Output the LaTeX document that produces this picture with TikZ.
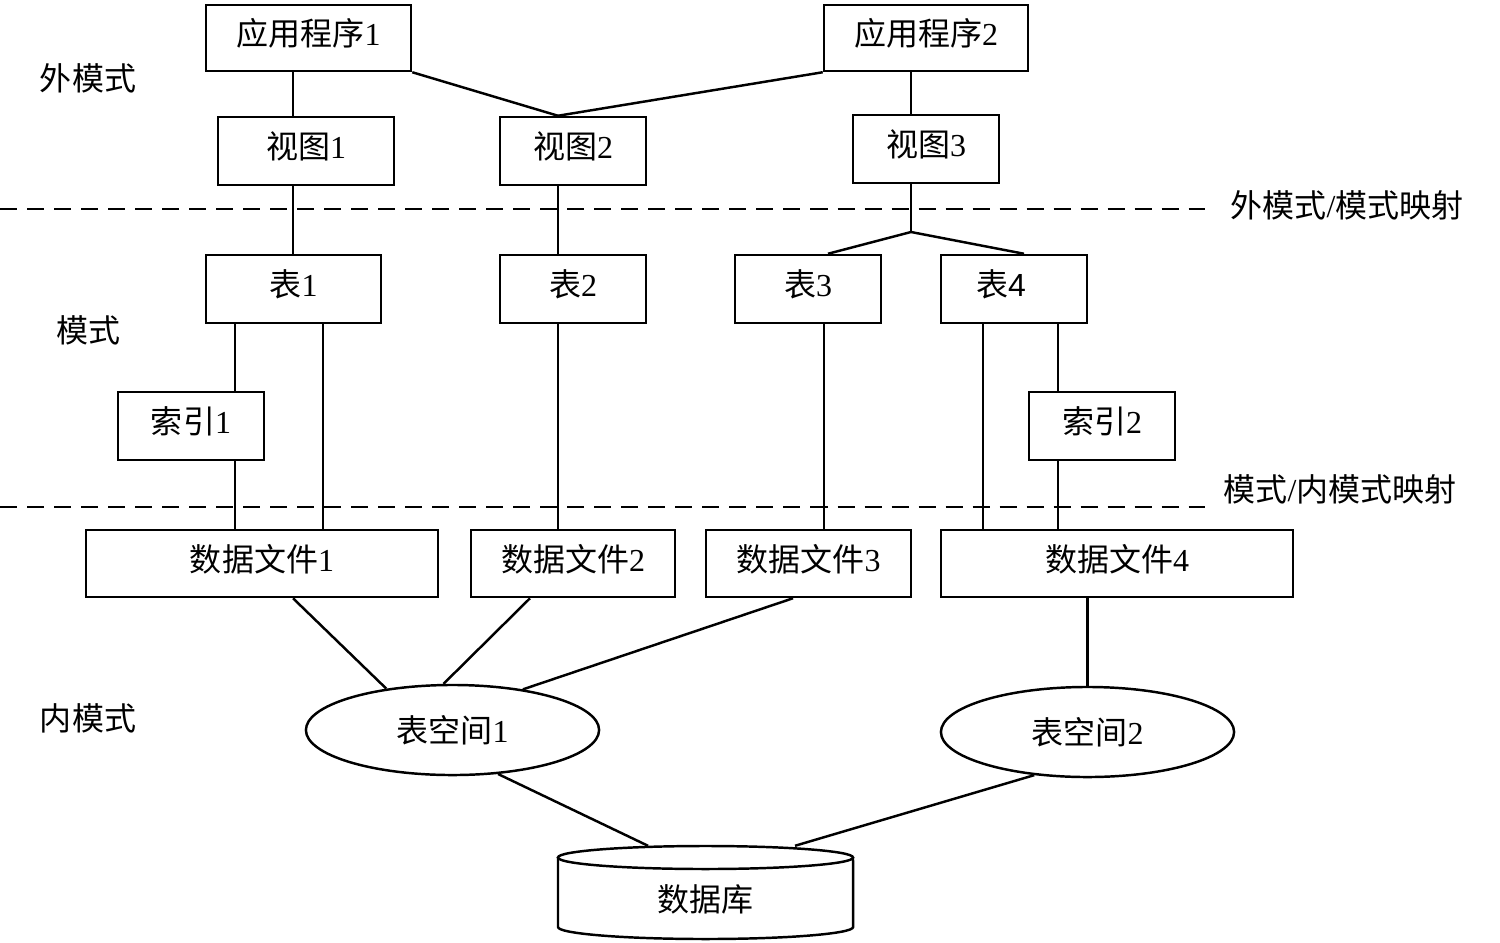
\documentclass[tikz,border=0pt]{standalone}
\usepackage{fontspec}
\setmainfont{Liberation Serif}
\newfontfamily\cjk{Noto Sans CJK SC}
\newfontfamily\lsans{Liberation Sans}
\usetikzlibrary{shapes.geometric}
\newcommand{\zh}[1]{{\cjk #1}}
\begin{document}
\begin{tikzpicture}[x=0.01cm,y=-0.01cm,
  every node/.style={font=\fontsize{9.1pt}{11pt}\selectfont},
  box/.style={draw, line width=0.7pt, inner sep=0pt, minimum height=0.68cm, text height=0.26cm, text depth=0.11cm},
  oval/.style={draw, ellipse, line width=0.7pt, inner sep=0pt, minimum width=2.93cm, minimum height=0.9cm},
  conn/.style={line width=0.7pt},
  sep/.style={line width=0.7pt, dash pattern=on 0.17cm off 0.1cm},
  lbl/.style={inner sep=0pt}]
\useasboundingbox (0,0) rectangle (1500,942);
% boxes
\node[box, minimum width=2.05cm, minimum height=0.66cm] (app1) at (308.5,38) {\zh{应用程序}1};
\node[box, minimum width=2.04cm, minimum height=0.66cm] (app2) at (926,38) {\zh{应用程序}2};
\node[box, minimum width=1.76cm] (v1) at (306,151) {\zh{视图}1};
\node[box, minimum width=1.46cm] (v2) at (573,151) {\zh{视图}2};
\node[box, minimum width=1.46cm] (v3) at (926,149) {\zh{视图}3};
\node[box, minimum width=1.75cm] (t1) at (293.5,289) {\zh{表}1};
\node[box, minimum width=1.46cm] (t2) at (573,289) {\zh{表}2};
\node[box, minimum width=1.46cm] (t3) at (808,289) {\zh{表}3};
\node[box, minimum width=1.46cm] (t4) at (1014,289) {\zh{表}{\lsans 4}\kern0.26cm};
\node[box, minimum width=1.46cm] (i1) at (191,426) {\zh{索引}1};
\node[box, minimum width=1.46cm] (i2) at (1102,426) {\zh{索引}2};
\node[box, minimum width=3.52cm, minimum height=0.67cm] (d1) at (262,563.5) {\zh{数据文件}1};
\node[box, minimum width=2.04cm, minimum height=0.67cm] (d2) at (573,563.5) {\zh{数据文件}2};
\node[box, minimum width=2.05cm, minimum height=0.67cm] (d3) at (808.5,563.5) {\zh{数据文件}3};
\node[box, minimum width=3.52cm, minimum height=0.67cm] (d4) at (1117,563.5) {\zh{数据文件}4};
\node[oval] (s1) at (452.5,730) {\zh{表空间}1};
\node[oval] (s2) at (1087.5,732) {\zh{表空间}2};
% database cylinder
\node[inner sep=0pt, minimum width=2.95cm, minimum height=0.93cm] (db) at (705.5,893) {};
\draw[conn] (705.5,857.5) ellipse [x radius=1.475cm, y radius=0.115cm];
\draw[conn] (558,857.5) -- (558,927) arc[start angle=180, end angle=360, x radius=1.475cm, y radius=0.12cm] -- (853,857.5);
\node at (705.5,899) {\zh{数据库}};
% layer labels
\node[lbl] (lo) at (88,78) {\zh{外模式}};
\node[lbl] (lc) at (88,330) {\zh{模式}};
\node[lbl] (li) at (88,718) {\zh{内模式}};
\node[lbl] (m1) at (1347,205) {\zh{外模式}/\zh{模式映射}};
\node[lbl] (m2) at (1340,489) {\zh{模式}/\zh{内模式映射}};
% dashed separators
\coordinate (s1a) at (0,209); \coordinate (s1b) at (1205,209);
\coordinate (s2a) at (0,507); \coordinate (s2b) at (1205,507);
\draw[sep] (s1a) -- (s1b);
\draw[sep] (s2a) -- (s2b);
% connectors
\draw[conn] (app1.south -| 293,0) -- (v1.north -| 293,0);
\draw[conn] (app1.south east) -- (v2.north -| 558,0);
\draw[conn] (app2.south west) -- (v2.north -| 558,0);
\draw[conn] (app2.south -| 911,0) -- (v3.north -| 911,0);
\draw[conn] (v1.south -| 293,0) -- (t1.north -| 293,0);
\draw[conn] (v2.south -| 558,0) -- (t2.north -| 558,0);
\coordinate (j3) at (911,232);
\draw[conn] (v3.south -| 911,0) -- (j3);
\draw[conn] (j3) -- (t3.north -| 828,0);
\draw[conn] (j3) -- (t4.north -| 1024,0);
\draw[conn] (t1.south -| 235,0) -- (i1.north -| 235,0);
\draw[conn] (i1.south -| 235,0) -- (d1.north -| 235,0);
\draw[conn] (t1.south -| 323,0) -- (d1.north -| 323,0);
\draw[conn] (t2.south -| 558,0) -- (d2.north -| 558,0);
\draw[conn] (t3.south -| 824,0) -- (d3.north -| 824,0);
\draw[conn] (t4.south -| 983,0) -- (d4.north -| 983,0);
\draw[conn] (t4.south -| 1058,0) -- (i2.north -| 1058,0);
\draw[conn] (i2.south -| 1058,0) -- (d4.north -| 1058,0);
\draw[conn] (d1.south -| 293,0) -- (s1.148);
\draw[conn] (d2.south -| 530,0) -- (s1.101);
\draw[conn] (d3.south -| 793,0) -- (s1.30);
\draw[conn] (d4.south -| 1087.5,0) -- (s2.north);
\draw[conn] (s1.-44) -- (db.north -| 648,0);
\draw[conn] (s2.219) -- (db.north -| 795,0);
\end{tikzpicture}
\end{document}
